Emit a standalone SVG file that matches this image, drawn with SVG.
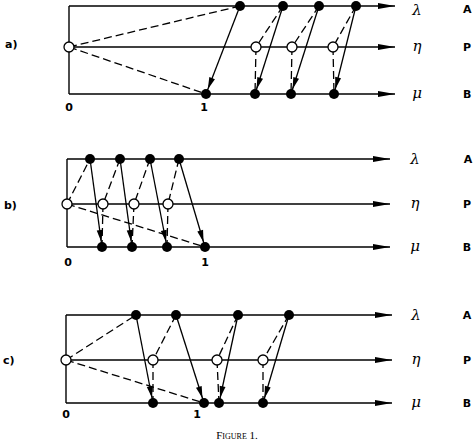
<svg xmlns="http://www.w3.org/2000/svg" width="474" height="440" viewBox="0 0 474 440">
<style>
.ax{stroke:#000;stroke-width:1.4;fill:none;marker-end:url(#axh)}
.fr{stroke:#000;stroke-width:1.4;fill:none}
.d{stroke:#000;stroke-width:1.3;fill:none;stroke-dasharray:8 4}
.s{stroke:#000;stroke-width:1.3;fill:none;marker-end:url(#ah)}
.f{fill:#000}
.o{fill:#fff;stroke:#000;stroke-width:1.3}
.lb{font-family:"DejaVu Sans",sans-serif;font-weight:bold;font-size:11px;fill:#000}
.gr{font-family:"DejaVu Serif","Liberation Serif",serif;font-style:italic;font-size:15px;fill:#000;text-anchor:middle}
.cap{font-family:"Liberation Serif",serif;font-variant:small-caps;font-size:11px;fill:#000;text-anchor:middle}
</style>
<defs>
<marker id="axh" markerUnits="userSpaceOnUse" markerWidth="20" markerHeight="10" refX="17" refY="3" orient="auto" overflow="visible"><path d="M0,0 L17,3 L0,6 z" fill="#000"/></marker>
<marker id="ah" markerUnits="userSpaceOnUse" markerWidth="20" markerHeight="10" refX="17" refY="3" orient="auto" overflow="visible"><path d="M0,0 L12,3 L0,6 z" fill="#000"/></marker>
</defs>

<g id="frames">
<path class="fr" d="M69,94 V6"/>
<path class="ax" d="M69,6 H395"/><path class="ax" d="M69,47 H395"/><path class="ax" d="M69,94 H395"/>
<path class="fr" d="M67,247 V159"/>
<path class="ax" d="M67,159 H390"/><path class="ax" d="M67,204 H390"/><path class="ax" d="M67,247 H390"/>
<path class="fr" d="M66,403 V315"/>
<path class="ax" d="M66,315 H392"/><path class="ax" d="M66,360 H392"/><path class="ax" d="M66,403 H392"/>
</g>

<g id="connectors">
<line class="d" x1="69" y1="47" x2="240" y2="6"/>
<line class="d" x1="69" y1="47" x2="206" y2="94"/>
<line class="d" x1="283" y1="6" x2="256" y2="47"/><line class="d" x1="256" y1="47" x2="255" y2="94"/>
<line class="d" x1="319" y1="6" x2="292" y2="47"/><line class="d" x1="292" y1="47" x2="291" y2="94"/>
<line class="d" x1="356" y1="6" x2="333" y2="47"/><line class="d" x1="333" y1="47" x2="334" y2="94"/>
<line class="s" x1="240" y1="6" x2="206" y2="94"/>
<line class="s" x1="283" y1="6" x2="255" y2="94"/>
<line class="s" x1="319" y1="6" x2="291" y2="94"/>
<line class="s" x1="356" y1="6" x2="334" y2="94"/>

<line class="d" x1="67" y1="204" x2="90" y2="159"/>
<line class="d" x1="67" y1="204" x2="205" y2="247"/>
<line class="d" x1="120" y1="159" x2="103" y2="204"/><line class="d" x1="103" y1="204" x2="102" y2="247"/>
<line class="d" x1="150" y1="159" x2="134" y2="204"/><line class="d" x1="134" y1="204" x2="132" y2="247"/>
<line class="d" x1="179" y1="159" x2="168" y2="204"/><line class="d" x1="168" y1="204" x2="167" y2="247"/>
<line class="s" x1="90" y1="159" x2="102" y2="247"/>
<line class="s" x1="120" y1="159" x2="132" y2="247"/>
<line class="s" x1="150" y1="159" x2="167" y2="247"/>
<line class="s" x1="179" y1="159" x2="205" y2="247"/>

<line class="d" x1="66" y1="360" x2="136" y2="315"/>
<line class="d" x1="66" y1="360" x2="204" y2="403"/>
<line class="d" x1="176" y1="315" x2="153" y2="360"/><line class="d" x1="153" y1="360" x2="153" y2="403"/>
<line class="d" x1="238" y1="315" x2="217" y2="360"/><line class="d" x1="217" y1="360" x2="219" y2="403"/>
<line class="d" x1="289" y1="315" x2="263" y2="360"/><line class="d" x1="263" y1="360" x2="263" y2="403"/>
<line class="s" x1="136" y1="315" x2="153" y2="403"/>
<line class="s" x1="176" y1="315" x2="204" y2="403"/>
<line class="s" x1="238" y1="315" x2="219" y2="403"/>
<line class="s" x1="289" y1="315" x2="263" y2="403"/>
</g>

<g id="panel-a-nodes">
<circle class="o" cx="69" cy="47" r="5"/>
<circle class="f" cx="240" cy="6" r="5"/><circle class="f" cx="283" cy="6" r="5"/><circle class="f" cx="319" cy="6" r="5"/><circle class="f" cx="356" cy="6" r="5"/>
<circle class="o" cx="256" cy="47" r="5"/><circle class="o" cx="292" cy="47" r="5"/><circle class="o" cx="333" cy="47" r="5"/>
<circle class="f" cx="206" cy="94" r="5"/><circle class="f" cx="255" cy="94" r="5"/><circle class="f" cx="291" cy="94" r="5"/><circle class="f" cx="334" cy="94" r="5"/>
</g>
<g id="panel-b-nodes">
<circle class="o" cx="67" cy="204" r="5"/>
<circle class="f" cx="90" cy="159" r="5"/><circle class="f" cx="120" cy="159" r="5"/><circle class="f" cx="150" cy="159" r="5"/><circle class="f" cx="179" cy="159" r="5"/>
<circle class="o" cx="103" cy="204" r="5"/><circle class="o" cx="134" cy="204" r="5"/><circle class="o" cx="168" cy="204" r="5"/>
<circle class="f" cx="102" cy="247" r="5"/><circle class="f" cx="132" cy="247" r="5"/><circle class="f" cx="167" cy="247" r="5"/><circle class="f" cx="205" cy="247" r="5"/>
</g>
<g id="panel-c-nodes">
<circle class="o" cx="66" cy="360" r="5"/>
<circle class="f" cx="136" cy="315" r="5"/><circle class="f" cx="176" cy="315" r="5"/><circle class="f" cx="238" cy="315" r="5"/><circle class="f" cx="289" cy="315" r="5"/>
<circle class="o" cx="153" cy="360" r="5"/><circle class="o" cx="217" cy="360" r="5"/><circle class="o" cx="263" cy="360" r="5"/>
<circle class="f" cx="153" cy="403" r="5"/><circle class="f" cx="204" cy="403" r="5"/><circle class="f" cx="219" cy="403" r="5"/><circle class="f" cx="263" cy="403" r="5"/>
</g>

<g id="labels">
<text class="lb" x="5" y="48">a)</text>
<text class="lb" x="69" y="111" text-anchor="middle">0</text>
<text class="lb" x="204" y="111" text-anchor="middle">1</text>
<text class="gr" x="417" y="15">λ</text>
<text class="gr" x="417" y="51">η</text>
<text class="gr" x="417" y="98">μ</text>
<text class="lb" x="463" y="13">A</text>
<text class="lb" x="463" y="51">P</text>
<text class="lb" x="463" y="98">B</text>

<text class="lb" x="4" y="209">b)</text>
<text class="lb" x="68" y="266" text-anchor="middle">0</text>
<text class="lb" x="205" y="266" text-anchor="middle">1</text>
<text class="gr" x="415" y="164">λ</text>
<text class="gr" x="415" y="208">η</text>
<text class="gr" x="415" y="251">μ</text>
<text class="lb" x="468" y="163" text-anchor="middle">A</text>
<text class="lb" x="467" y="208" text-anchor="middle">P</text>
<text class="lb" x="467" y="251" text-anchor="middle">B</text>

<text class="lb" x="3" y="364">c)</text>
<text class="lb" x="66" y="418" text-anchor="middle">0</text>
<text class="lb" x="197" y="418" text-anchor="middle">1</text>
<text class="gr" x="416" y="320">λ</text>
<text class="gr" x="416" y="364">η</text>
<text class="gr" x="416" y="407">μ</text>
<text class="lb" x="467" y="319" text-anchor="middle">A</text>
<text class="lb" x="467" y="364" text-anchor="middle">P</text>
<text class="lb" x="467" y="407" text-anchor="middle">B</text>

<text class="cap" x="237" y="439">Figure 1.</text>
</g>
</svg>
